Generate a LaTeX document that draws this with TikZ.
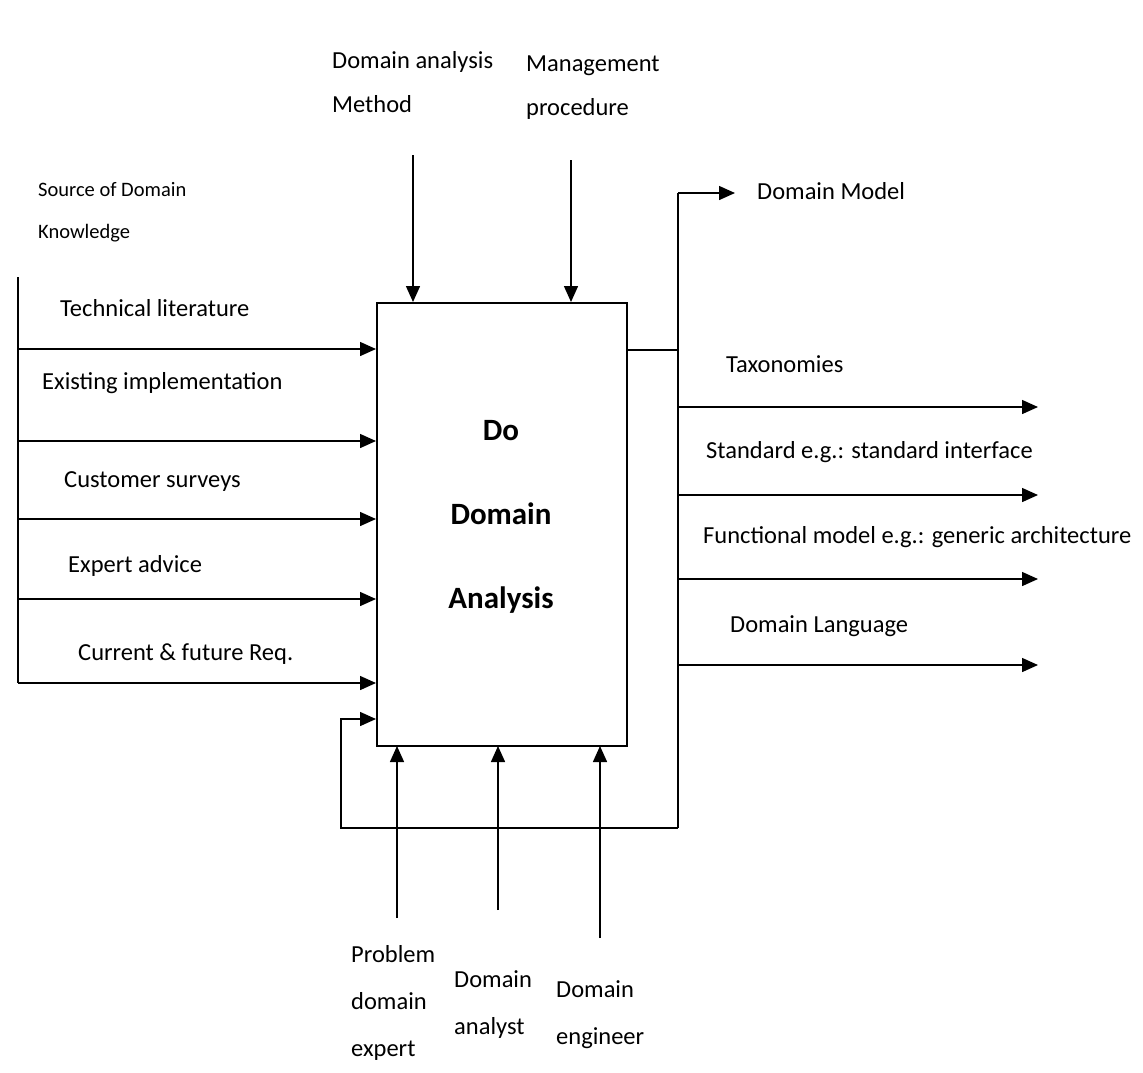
\documentclass[tikz,border=0pt]{standalone}
\usepackage{fontspec}
\setmainfont{Carlito}
\usetikzlibrary{arrows.meta}
\begin{document}
\begin{tikzpicture}[x=1pt,y=-1pt,
  ln/.style={line width=1.5pt},
  ar/.style={line width=1.5pt,-{Triangle[length=16pt,width=14pt]}},
  lbl/.style={inner sep=0pt,anchor=west,font=\fontsize{24.5}{44}\selectfont},
  blbl/.style={inner sep=0pt,anchor=north west,align=left,font=\fontsize{24.5}{47}\selectfont},
  sm/.style={inner sep=0pt,anchor=west,font=\fontsize{20.5}{42}\selectfont,align=left}]
\useasboundingbox (0,0) rectangle (1143,1072);
\node[draw,line width=1.5pt,minimum width=250pt,minimum height=443pt,inner sep=0pt,anchor=north west] (box) at (376,302) {};
\node[font=\bfseries\fontsize{31}{84}\selectfont,align=center] (t) at (501,517) {Do\\Domain\\Analysis};
% left inputs
\coordinate (lt) at (18,277);
\coordinate (lb) at (18,683);
\draw[ln] (lt) -- (lb);
\foreach \y in {349,441,519,599,683} \draw[ar] (18,\y) -- (376,\y);
\node[sm] (src) at (38,212) {Source of Domain\\Knowledge};
\node[lbl] (l1) at (60,308) {Technical literature};
\node[lbl] (l2) at (42,383) {Existing implementation};
\node[lbl] (l3) at (64,482) {Customer surveys};
\node[lbl] (l4) at (68,566) {Expert advice};
\node[lbl] (l5) at (78,654) {Current \& future Req.};
% top
\node[lbl,align=left] (m1) at (332,82) {Domain analysis\\Method};
\node[lbl,align=left] (m2) at (526,88) {Management\\procedure};
\coordinate (c1) at (413,155);
\coordinate (c2) at (571,160);
\draw[ar] (c1) -- (413,302);
\draw[ar] (c2) -- (571,302);
% bottom
\coordinate (b1) at (397,918);
\coordinate (b2) at (498,910);
\coordinate (b3) at (600,938);
\draw[ar] (b1) -- (397,746);
\draw[ar] (b2) -- (498,746);
\draw[ar] (b3) -- (600,746);
\node[blbl] (p1) at (351,945) {Problem\\domain\\expert};
\node[blbl] (p2) at (454,970) {Domain\\analyst};
\node[blbl] (p3) at (556,980) {Domain\\engineer};
% right outputs
\draw[ln] (626,350) -- (678,350);
\draw[ln] (678,828) -- (678,193);
\draw[ar] (678,193) -- (735,193);
\foreach \y in {407,495,579,665} \draw[ar] (678,\y) -- (1038,\y);
\node[lbl] (o0) at (757,191) {Domain Model};
\node[lbl] (o1) at (726,364) {Taxonomies};
\node[lbl] (o2) at (706,452) {Standard e.g.: standard interface};
\node[lbl] (o3) at (703,537) {Functional model  e.g.: generic architecture};
\node[lbl] (o4) at (730,626) {Domain Language};
% feedback
\draw[ar] (678,828) -- (341,828) -- (341,719) -- (376,719);
\end{tikzpicture}
\end{document}
